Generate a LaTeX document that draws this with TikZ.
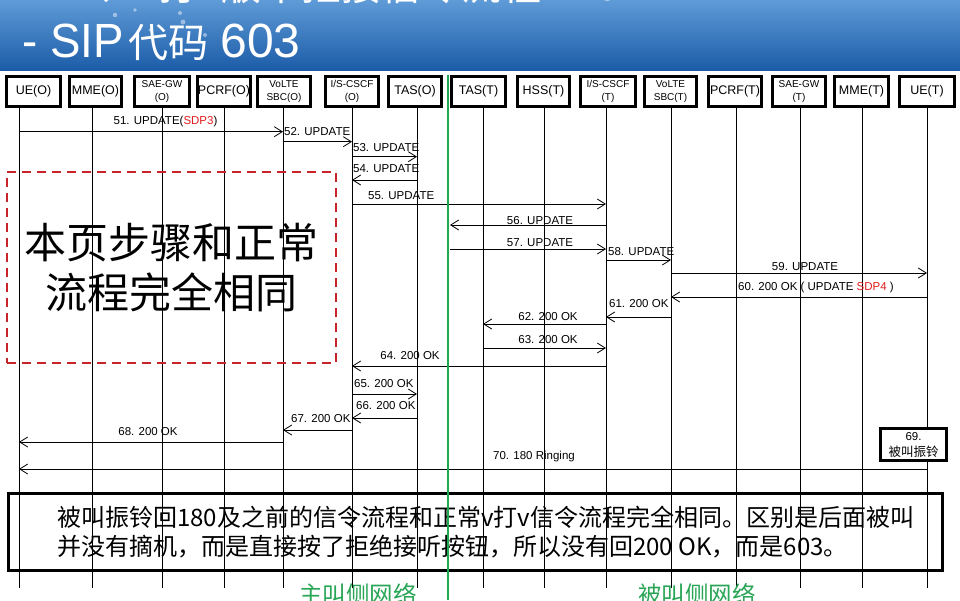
\documentclass[tikz,border=0pt]{standalone}
\usepackage{fontspec}
\setmainfont{Liberation Sans}
\newfontfamily\cjk{Noto Sans CJK SC}
\usetikzlibrary{arrows.meta}
\definecolor{hdrtop}{RGB}{95,155,215}
\definecolor{hdrbot}{RGB}{28,92,168}
\definecolor{sdpred}{RGB}{225,30,30}
\definecolor{dashred}{RGB}{200,35,40}
\definecolor{netgreen}{RGB}{30,170,80}
\definecolor{txtgreen}{RGB}{40,165,85}
\newcommand\msgarrow[3]{\draw[msg] (#1 |- 0,#3) -- (#2 |- 0,#3);}
\begin{document}
\begin{tikzpicture}[x=1pt,y=-1pt,
  ent/.style={draw=black, line width=2.6pt, fill=white, minimum height=30.4pt, inner sep=0pt, align=center, font=\fontsize{12.5}{14}\selectfont},
  ents/.style={ent, font=\fontsize{10}{13}\selectfont},
  life/.style={line width=0.8pt},
  msg/.style={line width=0.8pt, -{Straight Barb[length=8pt,width=10pt,line width=0.8pt]}},
  lbl/.style={inner sep=0pt, font=\fontsize{11.5}{13}\selectfont},
  bubble/.style={fill=white, opacity=0.45}]
\useasboundingbox (0,0) rectangle (960,600);
\fill[white] (0,0) rectangle (960,600);
% header
\shade[top color=hdrtop, bottom color=hdrbot] (0,0) rectangle (960,70);
\foreach \bx/\by/\br in {115/15/2.2,135/10/1.8,180/13/2,183/22/2.4,150/30/1.6,205/35/2,100/40/1.5,240/28/1.8}
  \fill[bubble] (\bx,\by) circle (\br);
\begin{scope}
  \clip (0,0) rectangle (960,70);
  \node[anchor=base west, text=white, inner sep=0pt] (titleA) at (55,0.5) {\cjk\fontsize{40}{44}\selectfont 二、V打V版本拒接信令流程 - VoLTE};
\end{scope}
\node[anchor=base west, text=white, inner sep=0pt] (titleB) at (22,57)
  {\scalebox{0.95}[1]{\fontsize{48}{50}\selectfont - SIP}\hspace{5pt}{\cjk\fontsize{40}{44}\selectfont 代码}\hspace{12pt}{\fontsize{48}{50}\selectfont 603}};
% lifelines
\foreach \n/\x in {l1/19,l2/92,l3/162,l4/224,l5/283,l6/352,l7/417,l8/483,l9/544,l10/606,l11/671,l12/736,l13/800,l14/862,l15/927}
  \coordinate (\n) at (\x,108);
\coordinate (ga) at (450,108);
\coordinate (bot) at (0,588);
\foreach \n in {l1,l2,l3,l4,l5,l6,l7,l8,l9,l10,l11,l12,l13,l14,l15}
  \draw[life] (\n) -- (\n |- bot);
% entities
\node[ent,  minimum width=54.4pt] (ueo)   at (33.5,91.5)  {UE(O)};
\node[ent,  minimum width=52.4pt] (mmeo)  at (95.5,91.5)  {MME(O)};
\node[ents, minimum width=55.4pt] (saeo)  at (162,91.5)   {SAE-GW\\(O)};
\node[ent,  minimum width=53.4pt] (pcrfo) at (224,91.5)   {PCRF(O)};
\node[ents, minimum width=53.4pt] (sbco)  at (284,91.5)   {VoLTE\\SBC(O)};
\node[ents, minimum width=53.4pt] (cscfo) at (352,91.5)   {I/S-CSCF\\(O)};
\node[ent,  minimum width=53.4pt] (taso)  at (415,91.5)   {TAS(O)};
\node[ent,  minimum width=54.4pt] (tast)  at (478.5,91.5) {TAS(T)};
\node[ent,  minimum width=52.4pt] (hsst)  at (543.5,91.5) {HSS(T)};
\node[ents, minimum width=55.4pt] (cscft) at (608,91.5)   {I/S-CSCF\\(T)};
\node[ents, minimum width=52.4pt] (sbct)  at (670.5,91.5) {VoLTE\\SBC(T)};
\node[ent,  minimum width=53.4pt] (pcrft) at (735,91.5)   {PCRF(T)};
\node[ents, minimum width=53.4pt] (saet)  at (799,91.5)   {SAE-GW\\(T)};
\node[ent,  minimum width=54.4pt] (mmet)  at (861.5,91.5) {MME(T)};
\node[ent,  minimum width=55.4pt] (uet)   at (927,91.5)   {UE(T)};
% messages
\msgarrow{l1}{l5}{131.7}
\msgarrow{l5}{l6}{141.7}
\msgarrow{l6}{l7}{156.7}
\msgarrow{l7}{l6}{180}
\msgarrow{l6}{l10}{204}
\msgarrow{l10}{ga}{225}
\msgarrow{ga}{l10}{249}
\msgarrow{l10}{l11}{260}
\msgarrow{l11}{l15}{273}
\msgarrow{l15}{l11}{297}
\msgarrow{l11}{l10}{317}
\msgarrow{l10}{l8}{324}
\msgarrow{l8}{l10}{348}
\msgarrow{l10}{l6}{366}
\msgarrow{l6}{l7}{394}
\msgarrow{l7}{l6}{418}
\msgarrow{l6}{l5}{430}
\msgarrow{l5}{l1}{442}
\msgarrow{l15}{l1}{469}
% labels
\node[lbl] (t51) at (165.5,122) {51. UPDATE(\textcolor{sdpred}{SDP3})};
\node[lbl, anchor=west] (t52) at (284,132) {52. UPDATE};
\node[lbl, anchor=west] (t53) at (353,148) {53. UPDATE};
\node[lbl, anchor=west] (t54) at (353,169) {54. UPDATE};
\node[lbl, anchor=west] (t55) at (368,196) {55. UPDATE};
\node[lbl] (t56) at (540,221) {56. UPDATE};
\node[lbl] (t57) at (540,243) {57. UPDATE};
\node[lbl, anchor=west] (t58) at (608,252) {58. UPDATE};
\node[lbl] (t59) at (805,267) {59. UPDATE};
\node[lbl, anchor=west] (t60) at (738,288) {60. 200 OK ( UPDATE \textcolor{sdpred}{SDP4} )};
\node[lbl, anchor=west] (t61) at (609,304) {61. 200 OK};
\node[lbl] (t62) at (548,317) {62. 200 OK};
\node[lbl] (t63) at (548,340) {63. 200 OK};
\node[lbl] (t64) at (410,356) {64. 200 OK};
\node[lbl, anchor=west] (t65) at (354,384) {65. 200 OK};
\node[lbl, anchor=west] (t66) at (356,406) {66. 200 OK};
\node[lbl, anchor=west] (t67) at (291,419) {67. 200 OK};
\node[lbl] (t68) at (148,432) {68. 200 OK};
\node[lbl] (t70) at (534,457) {70. 180 Ringing};
% dashed note
\node[draw=dashred, line width=2.4pt, dash pattern=on 9pt off 6pt, minimum width=329pt, minimum height=191pt, inner sep=0pt, align=center,
      font=\cjk\fontsize{42}{50}\selectfont] (same) at (171.5,267.5) {本页步骤和正常\\流程完全相同};
% step 69
\node[draw=black, line width=2.6pt, fill=white, minimum width=66.4pt, minimum height=32.4pt, inner sep=0pt, align=center,
      font=\fontsize{11.5}{16}\selectfont] (s69) at (913.5,444.5) {69.\\{\cjk\fontsize{12.5}{16}\selectfont 被叫振铃}};
% bottom note
\node[draw=black, line width=2.6pt, minimum width=934.4pt, minimum height=77.4pt, inner sep=0pt] (note) at (475.5,532) {};
\node[anchor=west, inner sep=0pt, align=left, font=\cjk\fontsize{24}{29}\selectfont] (notetext) at (57,532.5)
  {被叫振铃回180及之前的信令流程和正常v打v信令流程完全相同。区别是后面被叫\\并没有摘机，而是直接按了拒绝接听按钮，所以没有回200 OK，而是603。};
% green divider
\coordinate (gtop) at (448,75);
\coordinate (gbot) at (448,600);
\draw[netgreen, line width=2.8pt] (gtop) -- (gbot);
\node[text=txtgreen, inner sep=0pt, font=\cjk\fontsize{23.5}{26}\selectfont] (orig) at (358,594) {主叫侧网络};
\node[text=txtgreen, inner sep=0pt, font=\cjk\fontsize{23.5}{26}\selectfont] (term) at (697,594) {被叫侧网络};
\end{tikzpicture}
\end{document}
